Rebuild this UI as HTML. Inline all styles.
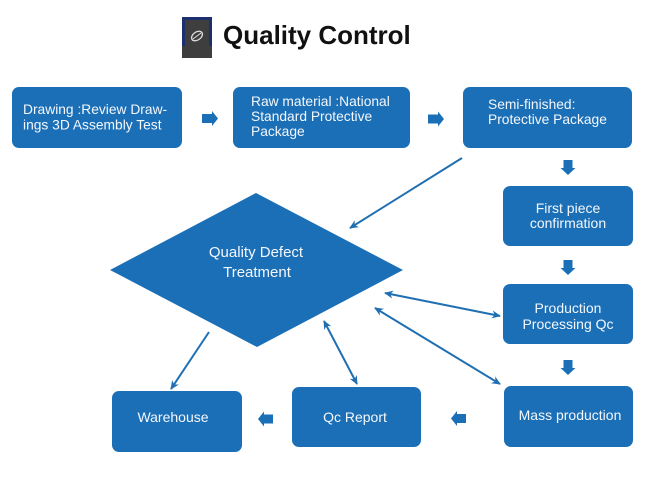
<!DOCTYPE html>
<html><head><meta charset="utf-8"><style>
html,body{margin:0;padding:0;background:#fff;}
svg{display:block;}
text{font-family:"Liberation Sans",Arial,sans-serif;}
</style></head><body>
<svg width="650" height="489" viewBox="0 0 650 489" xmlns="http://www.w3.org/2000/svg">
<defs>
<marker id="ah" viewBox="0 0 10 10" refX="9" refY="5" markerWidth="10" markerHeight="9" orient="auto-start-reverse" markerUnits="userSpaceOnUse">
<path d="M0,0.5 L10,5 L0,9.5 L3,5 Z" fill="#1f6fb2"/>
</marker>
</defs>
<rect width="650" height="489" fill="#fff"/>
<!-- title icon -->
<rect x="182" y="17" width="30" height="41" fill="#3e3e3e"/>
<rect x="182" y="17" width="3" height="29" fill="#1c2f6e"/>
<rect x="209" y="17" width="3" height="29" fill="#1c2f6e"/>
<rect x="182" y="17" width="30" height="3" fill="#1c2f6e"/>
<ellipse cx="197" cy="36" rx="6" ry="4" fill="none" stroke="#ddd" stroke-width="1.3" transform="rotate(-35 197 36)"/>
<line x1="193" y1="39" x2="201" y2="33" stroke="#ddd" stroke-width="1"/>
<text x="223" y="44" font-size="26" font-weight="bold" fill="#111">Quality  Control</text>

<g fill="#1b6fb7">
<rect x="12" y="87" width="170" height="61" rx="7"/>
<rect x="233" y="87" width="177" height="61" rx="7"/>
<rect x="463" y="87" width="169" height="61" rx="7"/>
<rect x="503" y="186" width="130" height="60" rx="7"/>
<rect x="503" y="284" width="130" height="60" rx="7"/>
<rect x="504" y="386" width="129" height="61" rx="7"/>
<rect x="292" y="387" width="129" height="60" rx="7"/>
<rect x="112" y="391" width="130" height="61" rx="7"/>
<polygon points="256,193 403,270 257,347 110,270"/>
<!-- block arrows -->
<path d="M202,114 H212 V111 L218,118.5 L212,126 V123 H202 Z"/>
<path d="M428,114.5 H438 V111.5 L444,119 L438,126.5 V123.5 H428 Z"/>
<path d="M563.5,160 H572.5 V168 H575.5 L568,175 L560.5,168 H563.5 Z"/>
<path d="M563.5,260 H572.5 V268 H575.5 L568,275 L560.5,268 H563.5 Z"/>
<path d="M563.5,360 H572.5 V368 H575.5 L568,375 L560.5,368 H563.5 Z"/>
<path d="M466,414 H457 V411 L451,418.5 L457,426 V423 H466 Z"/>
<path d="M273,414.5 H264 V411.5 L258,419 L264,426.5 V423.5 H273 Z"/>
</g>

<g stroke="#1f6fb2" stroke-width="2" fill="none">
<line x1="462" y1="158" x2="350" y2="228" marker-end="url(#ah)"/>
<line x1="385" y1="293" x2="500" y2="316" marker-start="url(#ah)" marker-end="url(#ah)"/>
<line x1="375" y1="308" x2="500" y2="384" marker-start="url(#ah)" marker-end="url(#ah)"/>
<line x1="209" y1="332" x2="171" y2="389" marker-end="url(#ah)"/>
<line x1="324" y1="321" x2="357" y2="384" marker-start="url(#ah)" marker-end="url(#ah)"/>
</g>

<g fill="#f4f7fb" font-size="13.8">
<text x="23" y="114">Drawing :Review Draw-</text>
<text x="23" y="129.5">ings 3D Assembly Test</text>
<text x="251" y="106">Raw material :National</text>
<text x="251" y="121">Standard Protective</text>
<text x="251" y="136">Package</text>
<text x="488" y="109">Semi-finished:</text>
<text x="488" y="124">Protective Package</text>
</g>
<g fill="#f4f7fb" font-size="14" text-anchor="middle">
<text x="568" y="213">First piece</text>
<text x="568" y="228">confirmation</text>
<text x="568" y="313">Production</text>
<text x="568" y="329">Processing Qc</text>
<text x="570" y="420">Mass production</text>
<text x="355" y="422">Qc Report</text>
<text x="173" y="422">Warehouse</text>
<text x="256" y="257" font-size="15">Quality Defect</text>
<text x="257" y="277" font-size="15">Treatment</text>
</g>
</svg>
</body></html>
